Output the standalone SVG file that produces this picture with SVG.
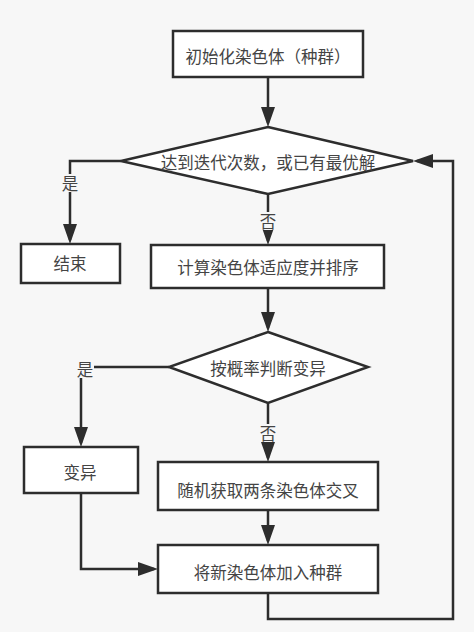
<svg xmlns="http://www.w3.org/2000/svg" width="474" height="632" viewBox="0 0 474 632">
<style>
.node{fill:#ffffff;stroke:#2d2d2d;stroke-width:2.5}
.t{font-family:"Noto Sans CJK SC","Noto Sans",sans-serif;font-size:16.5px;fill:#444;text-anchor:middle;dominant-baseline:central}
.c{fill:none;stroke:#2d2d2d;stroke-width:2.5}
.lb{fill:#f7f7f7}
</style>
<defs>
<marker id="arr" viewBox="0 0 20 14" refX="16" refY="7" markerWidth="20" markerHeight="14" markerUnits="userSpaceOnUse" orient="auto">
<path d="M0,0 L20,7 L0,14 z" fill="#2d2d2d"/>
</marker>
</defs>
<rect x="0" y="0" width="474" height="632" fill="#f7f7f7"/>
<g id="connectors">
<path class="c" d="M268,77 V123" marker-end="url(#arr)"/>
<path class="c" d="M121,161 H70 V240" marker-end="url(#arr)"/>
<path class="c" d="M268,194 V241" marker-end="url(#arr)"/>
<path class="c" d="M268,288 V328" marker-end="url(#arr)"/>
<path class="c" d="M169,367 H81 V443" marker-end="url(#arr)"/>
<path class="c" d="M268,403 V458" marker-end="url(#arr)"/>
<path class="c" d="M268,510 V541" marker-end="url(#arr)"/>
<path class="c" d="M81,493 V569 H154" marker-end="url(#arr)"/>
<path class="c" d="M268,593 V619 H453 V161 H417" marker-end="url(#arr)"/>
<rect class="lb" x="61" y="174" width="18" height="18"/>
<text class="t" x="70" y="183">是</text>
<rect class="lb" x="259" y="212" width="18" height="18"/>
<text class="t" x="268" y="221">否</text>
<rect class="lb" x="76" y="360" width="18" height="18"/>
<text class="t" x="85" y="369">是</text>
<rect class="lb" x="259" y="424" width="18" height="18"/>
<text class="t" x="268" y="433">否</text>
</g>
<g id="init">
<rect class="node" x="173" y="31" width="190" height="46"/>
<text class="t" x="268" y="56">初始化染色体（种群）</text>
</g>
<g id="check">
<polygon class="node" points="268,127 413,161 268,194 121,161"/>
<text class="t" x="268" y="162">达到迭代次数，或已有最优解</text>
</g>
<g id="end">
<rect class="node" x="21" y="244" width="99" height="39"/>
<text class="t" x="70" y="263">结束</text>
</g>
<g id="fitness">
<rect class="node" x="151" y="245" width="233" height="43"/>
<text class="t" x="268" y="267">计算染色体适应度并排序</text>
</g>
<g id="judge">
<polygon class="node" points="268,332 368,367 268,403 169,367"/>
<text class="t" x="268" y="368">按概率判断变异</text>
</g>
<g id="mutate">
<rect class="node" x="24" y="447" width="114" height="46"/>
<text class="t" x="80" y="472">变异</text>
</g>
<g id="cross">
<rect class="node" x="158" y="462" width="220" height="48"/>
<text class="t" x="268" y="490">随机获取两条染色体交叉</text>
</g>
<g id="add">
<rect class="node" x="158" y="545" width="220" height="48"/>
<text class="t" x="268" y="572">将新染色体加入种群</text>
</g>
</svg>
